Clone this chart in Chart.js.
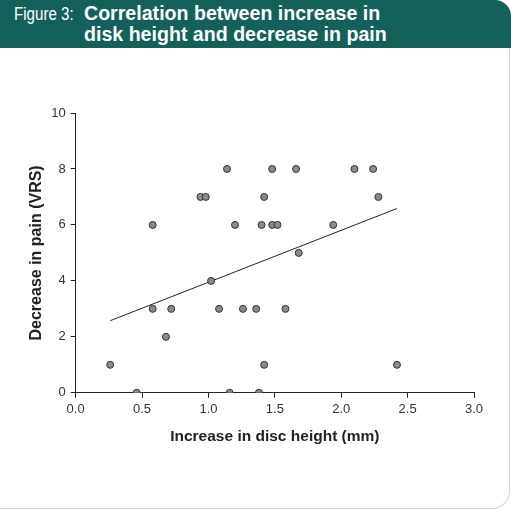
<!DOCTYPE html>
<html>
<head>
<meta charset="utf-8">
<script src="https://cdn.jsdelivr.net/npm/chart.js@4"></script>
<style>
  html, body { margin: 0; padding: 0; background: #fff; }
  #panel { position: relative; width: 511px; height: 511px; overflow: hidden; background: #fff; }
  #head { position: absolute; left: 0; top: 0; width: 511px; height: 48px; background: #14615c; border-top-right-radius: 16px; color: #fff; }
  #head .fig { position: absolute; left: 14px; top: 4px; font: 18px "Liberation Sans", Arial, sans-serif; transform: scaleX(0.84); transform-origin: 0 0; }
  #head .ttl { position: absolute; left: 84px; top: 3px; font: bold 19.6px "Liberation Sans", Arial, sans-serif; line-height: 21px; }
  #frame { position: absolute; left: -2px; top: 48px; width: 511px; height: 460px; border-right: 1px solid #c9dcd9; border-bottom: 1px solid #c9dcd9; border-bottom-right-radius: 18px; }
  #wrap { position: absolute; left: 0; top: 60px; width: 511px; height: 451px; }
</style>
</head>
<body>
<div id="panel">
  <div id="head">
    <div class="fig">Figure 3:</div>
    <div class="ttl">Correlation between increase in<br>disk height and decrease in pain</div>
  </div>
  <div id="frame"></div>
  <div id="wrap"><canvas id="chart"></canvas></div>
</div>
<script>
// Increase in disc height (mm) and decrease in pain (VRS), one entry per patient
const discHeight = [0.26, 0.46, 0.58, 0.58, 0.68, 0.72, 0.94, 0.98, 1.02, 1.08,
                    1.14, 1.16, 1.20, 1.26, 1.36, 1.38, 1.40, 1.42, 1.42, 1.48,
                    1.48, 1.52, 1.58, 1.66, 1.68, 1.94, 2.10, 2.24, 2.28, 2.42];
const painDrop   = [1, 0, 6, 3, 2, 3, 7, 7, 4, 3,
                    8, 0, 6, 3, 3, 0, 6, 7, 1, 8,
                    6, 6, 3, 8, 5, 6, 8, 8, 7, 1];
const xTicks = [0, 0.5, 1, 1.5, 2, 2.5, 3];
const yTicks = [0, 2, 4, 6, 8, 10];

const points = discHeight.map((x, i) => ({ x: x, y: painDrop[i] }));

// least squares fit, drawn over the range of the data
const n = points.length;
const mx = discHeight.reduce((a, b) => a + b, 0) / n;
const my = painDrop.reduce((a, b) => a + b, 0) / n;
let sxy = 0, sxx = 0;
points.forEach(p => { sxy += (p.x - mx) * (p.y - my); sxx += (p.x - mx) * (p.x - mx); });
const slope = sxy / sxx;
const icpt = my - slope * mx;
const xMin = Math.min(...discHeight), xMax = Math.max(...discHeight);
const fit = [{ x: xMin, y: icpt + slope * xMin }, { x: xMax, y: icpt + slope * xMax }];

Chart.defaults.font.family = '"Liberation Sans", Arial, sans-serif';
Chart.defaults.color = '#333';

const ctx = document.getElementById('chart').getContext('2d');
new Chart(ctx, {
    type: 'scatter',
    data: {
        datasets: [{
            label: 'Patients',
            data: points,
            backgroundColor: '#8a8a8a',
            borderColor: '#333',
            borderWidth: 1,
            pointRadius: 3.5,
            order: 1
        }, {
            label: 'Fit',
            data: fit,
            showLine: true,
            borderColor: '#222',
            borderWidth: 1,
            pointRadius: 0,
            order: 2
        }]
    },
    options: {
        responsive: true,
        maintainAspectRatio: false,
        animation: false,
        layout: { padding: { left: 23, right: 37, top: 53, bottom: 61 } },
        plugins: { legend: { display: false }, tooltip: { enabled: false } },
        scales: {
            x: {
                type: 'linear',
                min: 0, max: 3,
                afterBuildTicks: s => { s.ticks = xTicks.map(v => ({ value: v })); },
                ticks: { font: { size: 13 }, color: '#333', padding: 4, callback: v => v.toFixed(1) },
                grid: { drawOnChartArea: false, color: '#222', tickLength: 5 },
                border: { color: '#222', width: 1 },
                title: { display: true, text: 'Increase in disc height (mm)', font: { size: 15.5, weight: 'bold' }, color: '#222', padding: { top: 6 } }
            },
            y: {
                type: 'linear',
                min: 0, max: 10,
                afterBuildTicks: s => { s.ticks = yTicks.map(v => ({ value: v })); },
                ticks: { font: { size: 13 }, color: '#333', padding: 5 },
                grid: { drawOnChartArea: false, color: '#222', tickLength: 5 },
                border: { color: '#222', width: 1 },
                title: { display: true, text: 'Decrease in pain (VRS)', font: { size: 16, weight: 'bold' }, color: '#222', padding: { bottom: 0 } }
            }
        }
    }
});
</script>
</body>
</html>
